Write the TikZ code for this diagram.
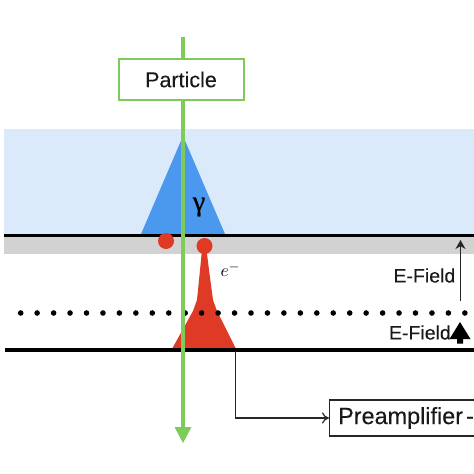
\documentclass[tikz,border=0pt]{standalone}
\usepackage{fontspec}
\setmainfont{Liberation Sans}
\newfontfamily\gammafont[FakeBold=0.8]{Liberation Serif}
\newfontfamily\signfont[FakeBold=0.15]{Liberation Sans}
\usetikzlibrary{arrows.meta}
\definecolor{bandblue}{RGB}{219,234,250}
\definecolor{conegreen}{RGB}{126,203,92}
\definecolor{coneblue}{RGB}{74,153,239}
\definecolor{chargered}{RGB}{222,58,38}
\definecolor{gapgrey}{RGB}{210,210,210}
\tikzset{
  x=1pt, y=-1pt,
  plate/.style={line width=3.4pt, black},
  wire/.style={line width=1.2pt, black!85},
  charge/.style={circle, fill=chargered, draw=none, inner sep=0pt, minimum size=16pt},
  dotmark/.style={circle, fill=black, draw=none, inner sep=0pt, minimum size=5.6pt},
  beam/.style={line width=3.4pt, conegreen},
  label/.style={inner sep=0pt, text=black!90, font=\signfont},
}
\begin{document}
\begin{tikzpicture}
\useasboundingbox (0,0) rectangle (474,474);
\clip (0,0) rectangle (474,474);
\fill[white] (0,0) rectangle (474,474);

% detector volumes
\fill[bandblue] (4,129) rectangle (474,235);
\fill[gapgrey] (4,235) rectangle (474,254);

% photon cone
\fill[coneblue] (183,136) -- (225,234) -- (141,234) -- cycle;

% avalanche
\fill[chargered] (202,250) -- (200,270) -- (197,300) -- (193,311) -- (172,349) -- (236,349)
  -- (217,311) -- (213,300) -- (209,270) -- (206.5,250) -- cycle;

% electrodes
\draw[plate] (4,235.5) -- (474,235.5);
\draw[plate] (5,350) -- (474,350);

% mesh
\foreach \i in {0,...,27}
  \node[dotmark] (mesh\i) at ({20.7+16.45*\i},313) {};

% charges
\node[charge] (ion) at (166,241) {};
\node[charge] (electron) at (204.5,246) {};

% particle track
\coordinate (trackstart) at (183,37);
\coordinate (trackend) at (183,428);
\draw[beam] (trackstart) -- (trackend);
\fill[conegreen] (174.5,427) -- (191.5,427) -- (183,443) -- cycle;
\node[draw=conegreen, line width=2.4pt, fill=white, minimum width=125pt, minimum height=41pt,
      inner sep=0pt] (particle) at (181.5,79.5) {};
\node[label, font=\signfont\fontsize{21.5}{24}\selectfont] (particletext) at (181,79.5) {Particle};

% labels
\node[inner sep=0pt, font=\gammafont\fontsize{28}{30}\selectfont] (gamma) at (199,207) {γ};
\node[inner sep=0pt] (elabel) at (230.5,269.5) {\scalebox{1.75}{$e^{-}$}};

% readout
\coordinate (readout) at (235.5,351);
\node[draw=black!85, line width=1.2pt, fill=white, minimum width=160pt, minimum height=36pt,
      anchor=west, inner sep=0pt] (preamp) at (329,418) {};
\node[label, anchor=west, font=\signfont\fontsize{23.4}{26}\selectfont] (preamptext) at (338,418) {Preamplifier\kern3pt-};
\draw[wire, -{To[length=7pt,width=11pt]}] (readout) |- (preamp.west);

% field markers
\coordinate (fieldlow) at (460.5,301);
\coordinate (fieldhigh) at (460.5,240);
\draw[wire, -{Stealth[length=9pt,width=10pt]}] (fieldlow) -- (fieldhigh);
\node[label, anchor=east, font=\signfont\fontsize{19.5}{22}\selectfont] (field1) at (455.5,275.5) {E-Field};
\node[label, anchor=east, font=\signfont\fontsize{19.5}{22}\selectfont] (field2) at (451,332.5) {E-Field};
\fill[black] (460,322) -- (470.5,339) -- (463,339) -- (463,343.5) -- (457,343.5) -- (457,339) -- (449.5,339) -- cycle;
\end{tikzpicture}
\end{document}
